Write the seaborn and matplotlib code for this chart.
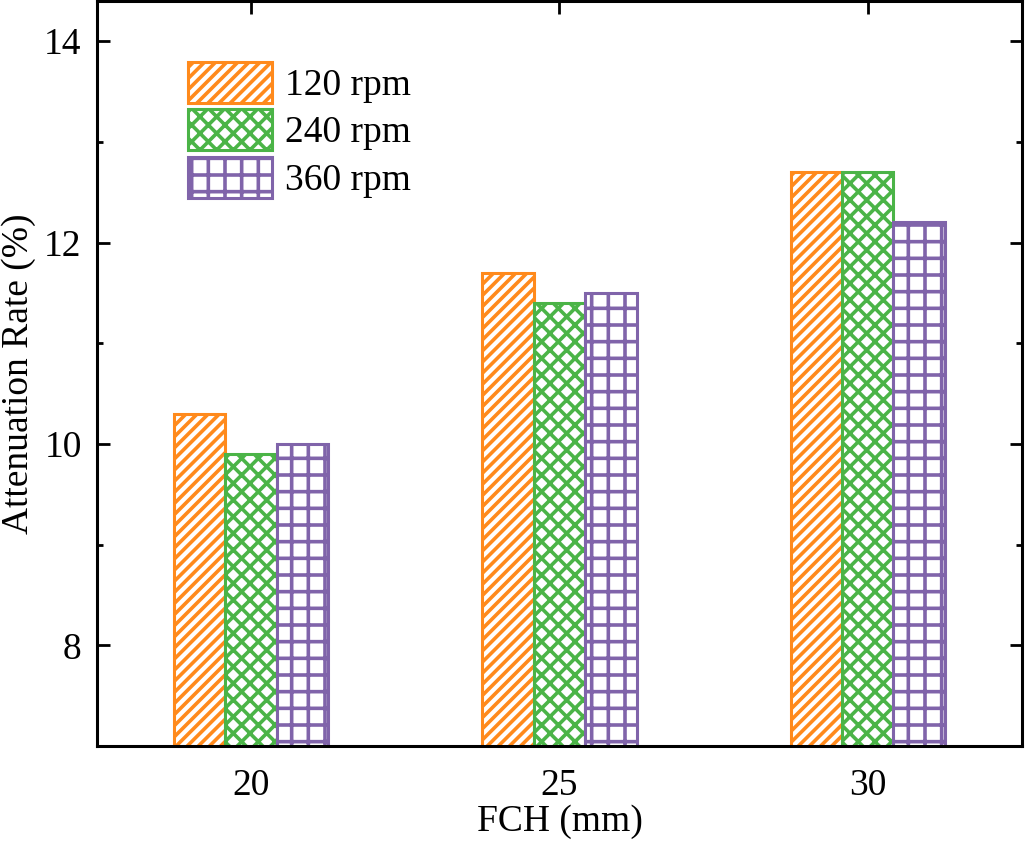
import matplotlib
matplotlib.use("Agg")
import matplotlib.pyplot as plt
from matplotlib.patches import Patch
from matplotlib.ticker import AutoMinorLocator
import pandas as pd
import seaborn as sns

# Data
fch = ["20", "25", "30"]
speeds = ["120 rpm", "240 rpm", "360 rpm"]
rate_120 = [10.3, 11.7, 12.7]
rate_240 = [9.9, 11.4, 12.7]
rate_360 = [10.0, 11.5, 12.2]

colors = ["#FF8A1C", "#4BB447", "#8064AA"]
hatches = ["///", "xx", "+"]

df = pd.DataFrame({
    "FCH": fch * 3,
    "speed": [speeds[0]] * 3 + [speeds[1]] * 3 + [speeds[2]] * 3,
    "rate": rate_120 + rate_240 + rate_360,
})

sns.set_style("ticks")
plt.rcParams["font.family"] = ["Liberation Serif", "DejaVu Serif"]
plt.rcParams["hatch.linewidth"] = 2.6
for key in ["text.color", "axes.labelcolor", "xtick.color", "ytick.color",
            "axes.edgecolor"]:
    plt.rcParams[key] = "black"

fig = plt.figure(figsize=(10.25, 8.41), dpi=100)
ax = fig.add_axes([0.0946, 0.113, 0.9024, 0.886])

sns.barplot(data=df, x="FCH", y="rate", hue="speed", order=fch,
            hue_order=speeds, palette=colors, width=0.5, ax=ax,
            legend=False)

# White bars with coloured edge and hatch
for cont, col, h in zip(ax.containers, colors, hatches):
    for bar in cont:
        bar.set_facecolor("white")
        bar.set_edgecolor(col)
        bar.set_hatch(h)
        bar.set_linewidth(2.2)

ax.set_ylim(7, 14.4)
ax.set_xlim(-0.5, 2.5)
ax.set_yticks([8, 10, 12, 14])
ax.yaxis.set_minor_locator(AutoMinorLocator(2))

ax.set_xlabel("FCH (mm)", fontsize=27, labelpad=1)
ax.set_ylabel("Attenuation Rate (%)", fontsize=27, labelpad=6)

ax.tick_params(axis="both", which="major", direction="in", length=9,
               width=2, labelsize=27, top=True, right=True)
ax.tick_params(axis="x", which="major", pad=16)
ax.tick_params(axis="y", which="major", pad=11)
ax.tick_params(axis="y", which="minor", direction="in", length=4.5,
               width=2, right=True)
for sp in ax.spines.values():
    sp.set_linewidth(2.2)
    sp.set_visible(True)

handles = [Patch(facecolor="white", edgecolor=c, hatch=h, linewidth=2.2)
           for c, h in zip(colors, hatches)]
ax.legend(handles, speeds, loc="upper left", bbox_to_anchor=(0.098, 0.918),
          frameon=False, fontsize=27, handlelength=2.24, handleheight=1.3,
          labelspacing=0.17, handletextpad=0.35, borderpad=0,
          borderaxespad=0)

fig.savefig("out.png", dpi=100)
